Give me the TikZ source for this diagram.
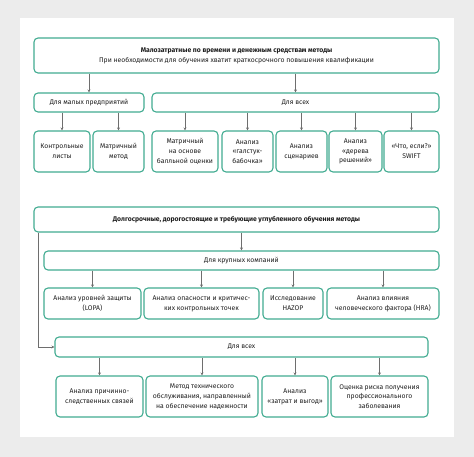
\documentclass[tikz,border=0pt]{standalone}
\usepackage{fontspec}
\setmainfont{Fira Sans}
\usetikzlibrary{arrows.meta}
\definecolor{teal1}{RGB}{66,172,145}
\definecolor{bgg}{RGB}{236,236,236}
\definecolor{txt}{RGB}{30,30,30}
\definecolor{lin}{RGB}{110,110,110}
\begin{document}
\begin{tikzpicture}[x=1pt,y=-1pt,
  box/.style={draw=teal1,line width=1.1pt,rounded corners=4pt,fill=white,align=center,
    inner sep=0pt,text=txt,font=\fontsize{6.8}{9.8}\selectfont},
  arr/.style={draw=lin,line width=0.6pt,-{Stealth[length=3pt,width=3pt]}}]
\fill[bgg] (0,0) rectangle (474,457);
\fill[white] (20,18) rectangle (454,437);
\useasboundingbox (0,0) rectangle (474,457);
% section 1
\node[box,minimum width=405pt,minimum height=35pt] (top1) at (236.5,55.5)
 {{\bfseries Малозатратные по времени и денежным средствам методы}\\При необходимости для обучения хватит краткосрочного повышения квалификации};
\node[box,minimum width=110pt,minimum height=19pt] (small) at (89,102.5) {Для малых предприятий};
\node[box,minimum width=287pt,minimum height=19pt] (all1) at (295.5,102.5) {Для всех};
\node[box,minimum width=56pt,minimum height=41pt] (r1) at (62,151.5) {Контрольные\\листы};
\node[box,minimum width=51pt,minimum height=41pt] (r2) at (118.5,151.5) {Матричный\\метод};
\node[box,minimum width=66pt,minimum height=41pt] (r3) at (185,151.5) {Матричный\\на основе\\балльной оценки};
\node[box,minimum width=51pt,minimum height=41pt] (r4) at (247.5,151.5) {Анализ\\«галстук-\\бабочка»};
\node[box,minimum width=51pt,minimum height=41pt] (r5) at (301.5,151.5) {Анализ\\сценариев};
\node[box,minimum width=53pt,minimum height=41pt] (r6) at (355.5,151.5) {Анализ\\«дерева\\решений»};
\node[box,minimum width=55pt,minimum height=41pt] (r7) at (411.5,151.5) {«Что, если?»\\SWIFT};
\draw[arr] (top1.south -| small.north) -- (small.north);
\draw[arr] (top1.south -| all1.north) -- (all1.north);
\foreach \n in {r1,r2}{\draw[arr] (small.south -| \n.north) -- (\n.north);}
\foreach \n in {r3,r4,r5,r6,r7}{\draw[arr] (all1.south -| \n.north) -- (\n.north);}
% section 2
\node[box,minimum width=405pt,minimum height=25pt] (top2) at (236.5,219.5)
 {\bfseries Долгосрочные, дорогостоящие и требующие углубленного обучения методы};
\node[box,minimum width=395pt,minimum height=19pt] (large) at (241.5,260.5) {Для крупных компаний};
\node[box,minimum width=97pt,minimum height=31pt] (b1) at (92.5,303.5) {Анализ уровней защиты\\(LOPA)};
\node[box,minimum width=115pt,minimum height=31pt] (b2) at (201.5,303.5) {Анализ опасности и критичес-\\ких контрольных точек};
\node[box,minimum width=60pt,minimum height=31pt] (b3) at (293,303.5) {Исследование\\HAZOP};
\node[box,minimum width=112pt,minimum height=31pt] (b4) at (383,303.5) {Анализ влияния\\человеческого фактора (HRA)};
\node[box,minimum width=373pt,minimum height=20pt] (all2) at (241.5,347) {Для всех};
\node[box,minimum width=87pt,minimum height=41pt] (c1) at (99.5,396.5) {Анализ причинно-\\следственных связей};
\node[box,minimum width=112pt,minimum height=41pt] (c2) at (202,396.5) {Метод технического\\обслуживания, направленный\\на обеспечение надежности};
\node[box,minimum width=66pt,minimum height=41pt] (c3) at (295,396.5) {Анализ\\«затрат и выгод»};
\node[box,minimum width=97pt,minimum height=41pt] (c4) at (379.5,396.5) {Оценка риска получения\\профессионального\\заболевания};
\draw[arr] (top2.south -| large.north) -- (large.north);
\foreach \n in {b1,b2,b3,b4}{\draw[arr] (large.south -| \n.north) -- (\n.north);}
\draw[arr] ([xshift=5pt]top2.south west) |- (all2.west);
\foreach \n in {c1,c2,c3,c4}{\draw[arr] (all2.south -| \n.north) -- (\n.north);}
\end{tikzpicture}
\end{document}
